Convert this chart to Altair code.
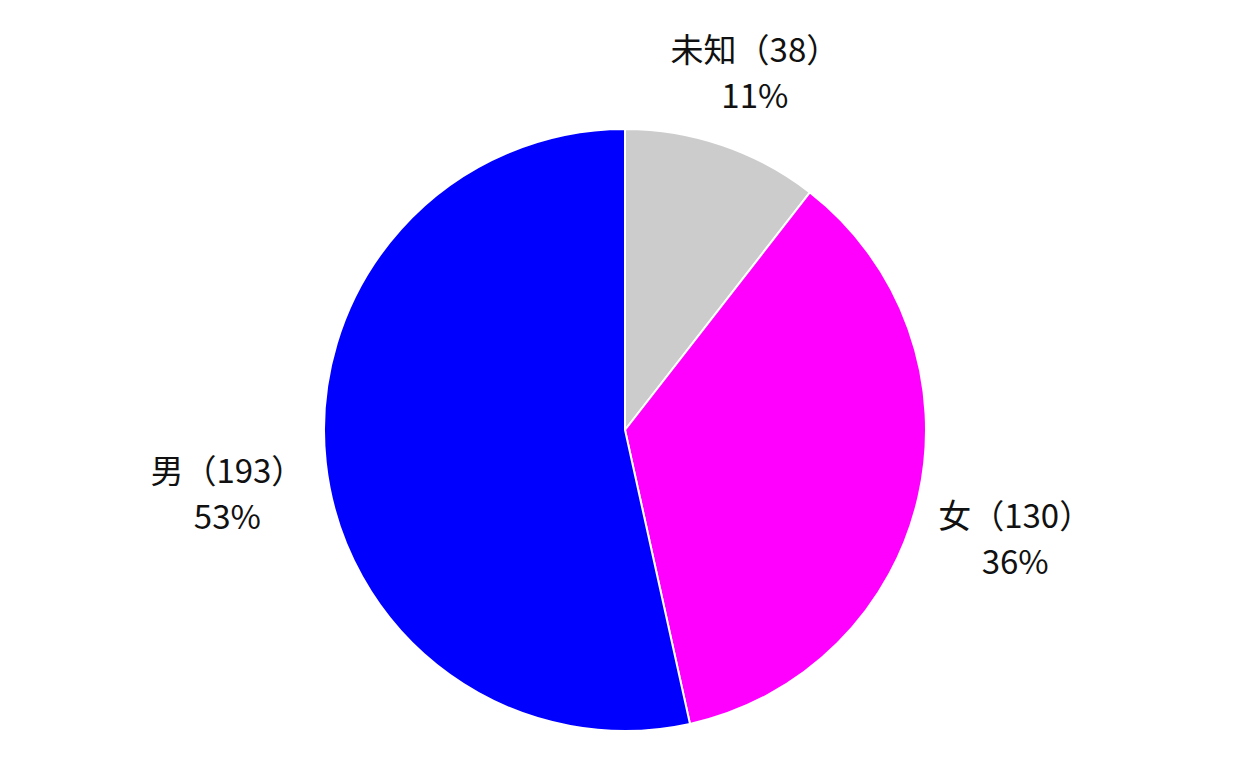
import altair as alt
import pandas as pd

categories = ['未知', '女', '男']
counts = [38, 130, 193]
colors = ['#cccccc', '#ff00ff', '#0000ff']

total = sum(counts)
labels = [f'{c}（{n}）\n{round(n / total * 100)}%' for c, n in zip(categories, counts)]

df = pd.DataFrame({
    'category': categories,
    'count': counts,
    'label': labels,
    'rank': list(range(len(categories))),
})

base = alt.Chart(df).encode(
    theta=alt.Theta('count:Q', stack=True),
    order=alt.Order('rank:Q'),
)

pie = base.mark_arc(outerRadius=301, stroke='white', strokeWidth=2).encode(
    color=alt.Color('category:N', scale=alt.Scale(domain=categories, range=colors), legend=None),
)

text = base.mark_text(
    radius=400,
    font='Noto Sans CJK SC',
    fontSize=33,
    lineHeight=46,
    lineBreak='\n',
    color='#111111',
    align='center',
    baseline='middle',
).encode(text='label:N')

chart = (pie + text).properties(
    width=1210,
    height=670,
    padding={'left': 12, 'top': 87, 'right': 0, 'bottom': 0},
    autosize=alt.AutoSizeParams(type='none'),
).configure_view(stroke=None)

chart.save('out.html', embed_options={'renderer': 'svg', 'actions': False})
